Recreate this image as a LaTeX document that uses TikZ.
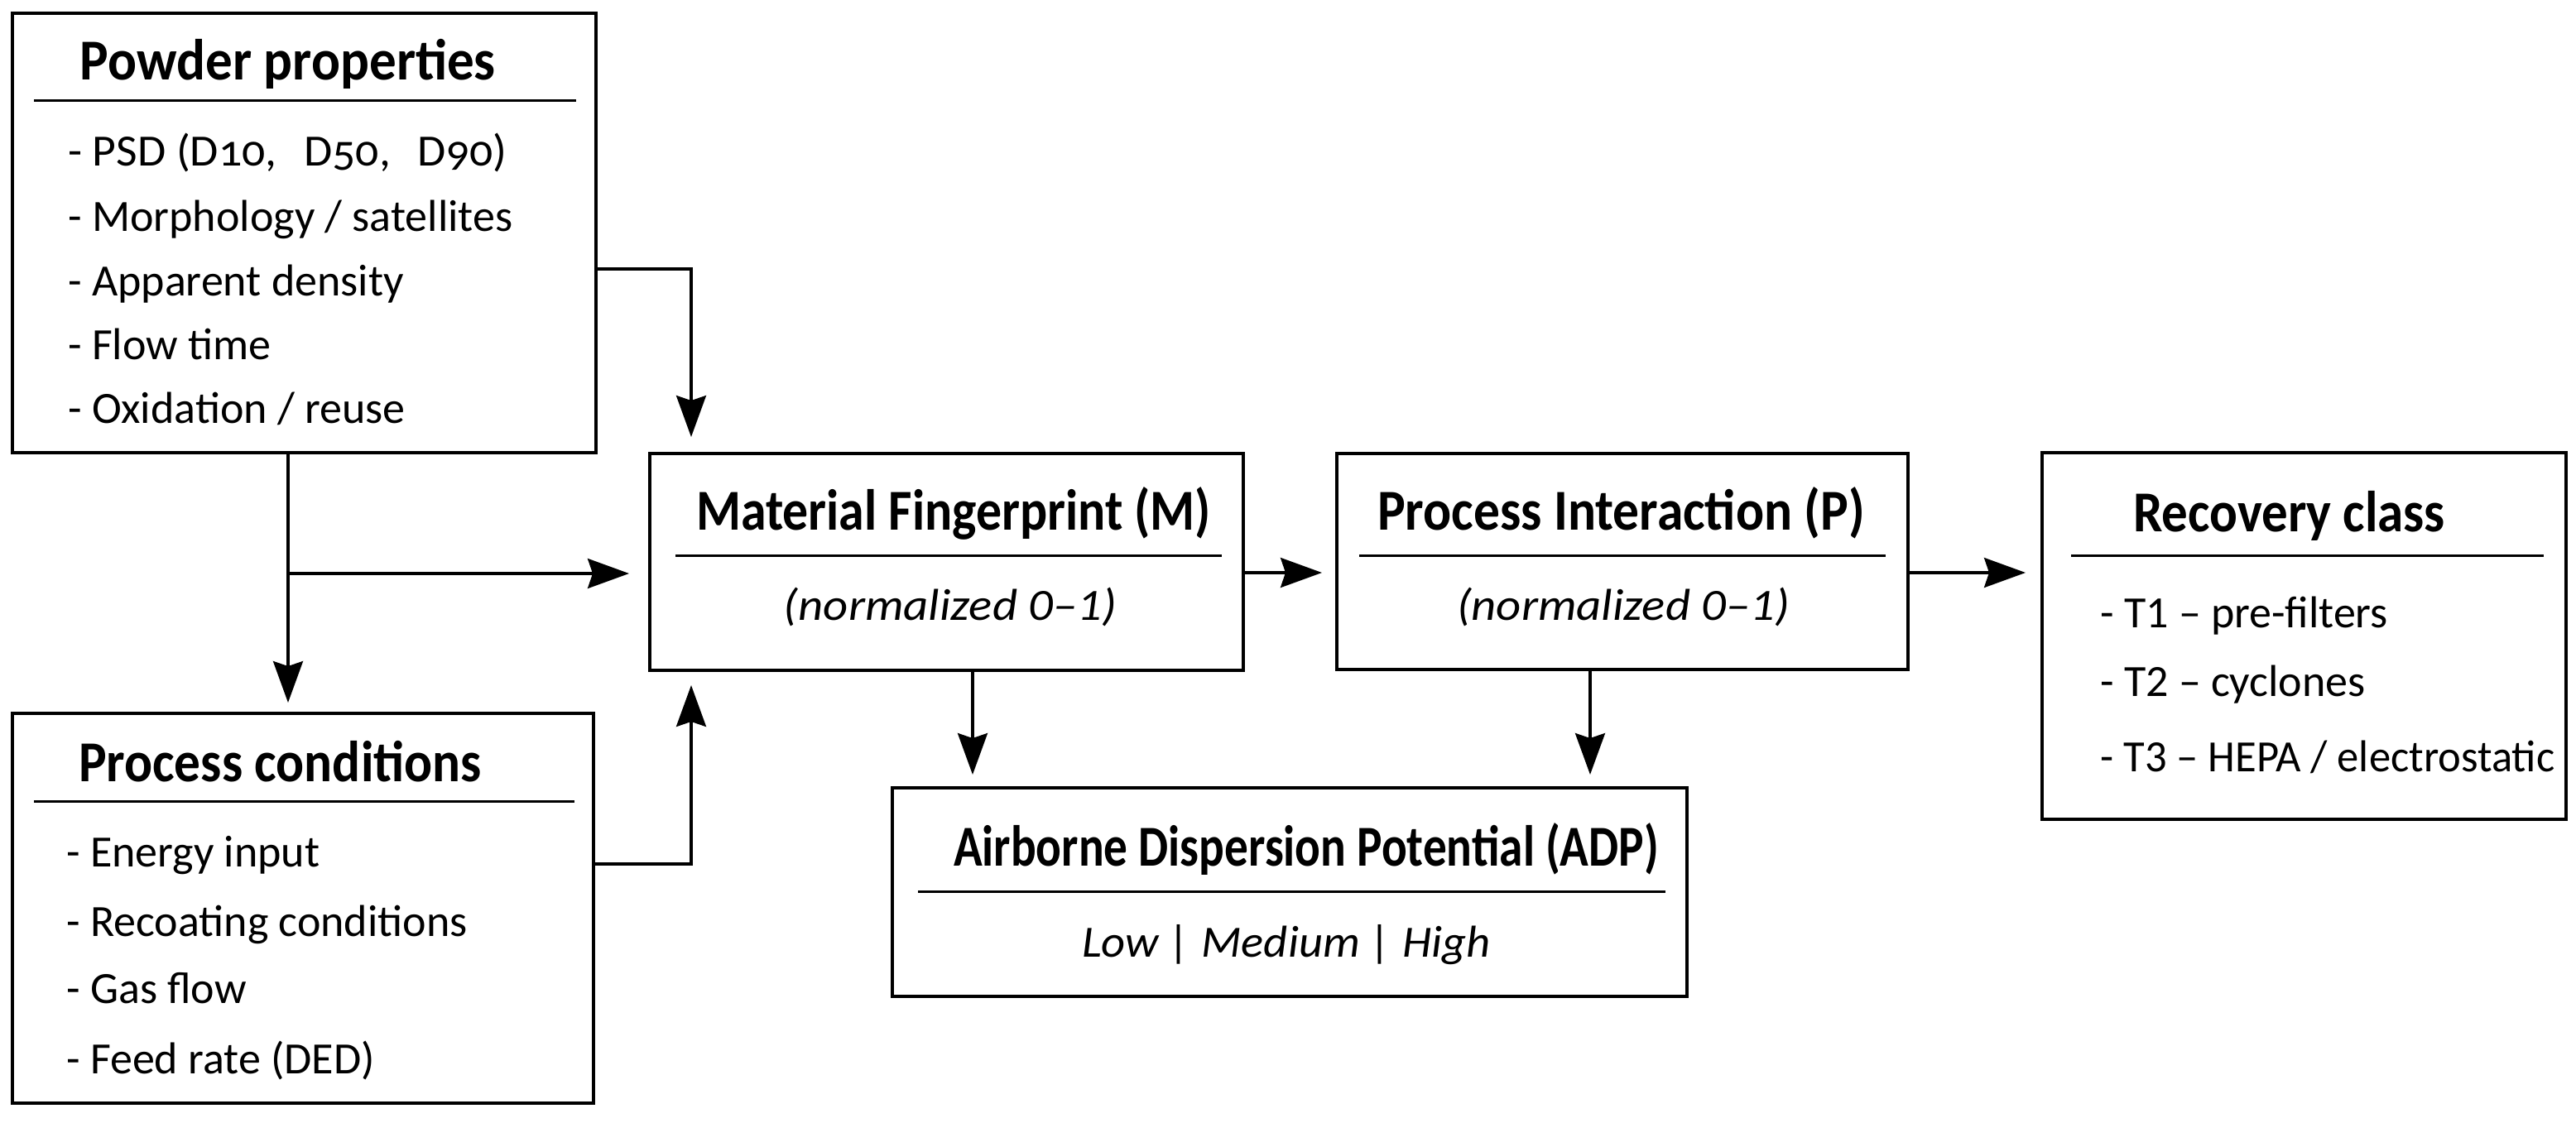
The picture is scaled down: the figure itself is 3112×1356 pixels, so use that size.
\documentclass[tikz,border=0pt]{standalone}
\usepackage{graphicx}
\usepackage{fontspec}
\setmainfont{Carlito}
\newfontfamily\osffont{Carlito}[Numbers=OldStyle]
\usetikzlibrary{arrows.meta}
\newcommand{\tw}[2]{\resizebox{#1}{\height}{#2}}
\begin{document}
\begin{tikzpicture}[x=0.5pt,y=-0.5pt,
  box/.style={draw, line width=2.25pt, inner sep=0pt, outer sep=0pt},
  ttl/.style={font=\fontsize{35}{40}\selectfont\bfseries, inner sep=0pt, anchor=base},
  itm/.style={font=\fontsize{27}{32}\selectfont, inner sep=0pt, anchor=base west},
  sub/.style={font=\fontsize{27}{32}\selectfont\itshape, inner sep=0pt, anchor=base},
  rl/.style={line width=1.5pt},
  arr/.style={line width=1.6pt, -{Stealth[length=25pt,width=18pt,inset=3pt]}}]
\fill[white] (0,0) rectangle (3112,1356);
\useasboundingbox (0,0) rectangle (3112,1356);

% boxes
\node[box, minimum width=352.5pt, minimum height=265.5pt] (pp) at (367.5,281.5) {};
\node[box, minimum width=351pt, minimum height=235.5pt] (pc) at (366,1097.5) {};
\node[box, minimum width=358.5pt, minimum height=131pt] (mf) at (1143.5,679) {};
\node[box, minimum width=345pt, minimum height=130.5pt] (pi) at (1960,678.5) {};
\node[box, minimum width=316.5pt, minimum height=221.5pt] (rc) at (2783.5,768.5) {};
\node[box, minimum width=480pt, minimum height=126pt] (adp) at (1558,1078) {};

% Powder properties
\node[ttl] (ppt) at (348,96) {\tw{251pt}{Powder properties}};
\draw[rl] (41,121) -- (696,121);
\node[itm] (pp1) at (82,200) {\tw{265pt}{- PSD (D{\osffont 10},\hspace{16pt}D{\osffont 50},\hspace{16pt}D{\osffont 90})}};
\node[itm] (pp2) at (82,279) {- Morphology / satellites};
\node[itm] (pp3) at (82,357) {- Apparent density};
\node[itm] (pp4) at (82,434) {- Flow time};
\node[itm] (pp5) at (82,511) {- Oxidation / reuse};

% Process conditions
\node[ttl] (pct) at (338.5,944) {\tw{243.5pt}{Process conditions}};
\draw[rl] (41,968) -- (694,968);
\node[itm] (pc1) at (80,1047) {- Energy input};
\node[itm] (pc2) at (80,1131) {- Recoating conditions};
\node[itm] (pc3) at (80,1212) {- Gas flow};
\node[itm] (pc4) at (80,1297) {- Feed rate (DED)};

% Material Fingerprint
\node[ttl] (mft) at (1152,640) {\tw{311pt}{Material Fingerprint (M)}};
\draw[rl] (816,671) -- (1476,671);
\node[sub] (mfs) at (1148,749) {\tw{201pt}{(normalized 0–1)}};

% Process Interaction
\node[ttl] (pit) at (1958.5,640) {\tw{294.5pt}{Process Interaction (P)}};
\draw[rl] (1642,671) -- (2278,671);
\node[sub] (pis) at (1961,749) {\tw{201pt}{(normalized 0–1)}};

% Recovery class
\node[ttl] (rct) at (2765.5,642) {\tw{188.5pt}{Recovery class}};
\draw[rl] (2502,671) -- (3073,671);
\node[itm] (rc1) at (2537,758) {- T1 – pre-filters};
\node[itm] (rc2) at (2537,841) {- T2 – cyclones};
\node[itm] (rc3) at (2537,932) {\tw{274.5pt}{- T3 – HEPA / electrostatic}};

% ADP
\node[ttl] (adpt) at (1578,1046) {\tw{426pt}{Airborne Dispersion Potential (ADP)}};
\draw[rl] (1109,1077) -- (2012,1077);
\node[sub] (adps) at (1554,1156) {\tw{247pt}{Low | Medium | High}};

% connectors
\coordinate (xA) at (835,0);
\coordinate (yA) at (0,325);
\coordinate (xB) at (348,0);
\coordinate (br) at (348,693);
\coordinate (yC) at (0,1044);
\coordinate (yD) at (0,692);
\coordinate (xE) at (1175,0);
\coordinate (xF) at (1921,0);
\draw[arr, shorten >=10pt] (pp.east |- yA) -| (mf.north -| xA);
\draw[arr, shorten >=6.5pt] (pp.south -| xB) -- (pc.north -| xB);
\draw[arr, shorten >=12.5pt] (br) -- (mf.west |- br);
\draw[arr, shorten >=9pt] (pc.east |- yC) -| (mf.south -| xA);
\draw[arr, shorten >=9pt] (mf.east |- yD) -- (pi.west |- yD);
\draw[arr, shorten >=10pt] (pi.east |- yD) -- (rc.west |- yD);
\draw[arr, shorten >=8pt] (mf.south -| xE) -- (adp.north -| xE);
\draw[arr, shorten >=8pt] (pi.south -| xF) -- (adp.north -| xF);
\end{tikzpicture}
\end{document}
